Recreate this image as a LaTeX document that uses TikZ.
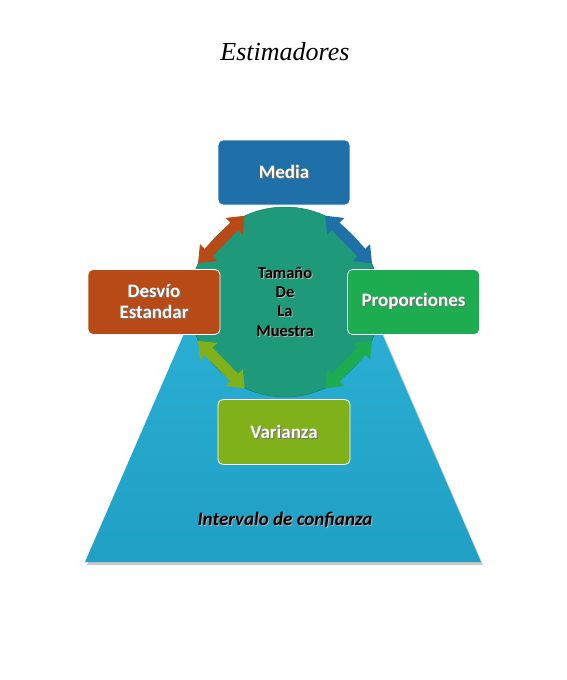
\documentclass[tikz,border=0pt]{standalone}
\usepackage{fontspec}
\setmainfont{Carlito}
\newfontfamily\titlefont{Liberation Serif}
\usetikzlibrary{arrows.meta}
\definecolor{mediablue}{RGB}{31,111,168}
\definecolor{desvioorange}{RGB}{184,74,24}
\definecolor{propgreen}{RGB}{30,172,80}
\definecolor{varolive}{RGB}{128,176,26}
\definecolor{tamteal}{RGB}{30,154,122}
\definecolor{pyrtop}{RGB}{46,178,216}
\definecolor{pyrbottom}{RGB}{31,160,196}
% text with a small drop shadow
\newcommand\shtxt[2][black!55]{\leavevmode\rlap{\hspace{1pt}\raisebox{-1pt}{\color{#1}#2}}#2}
\tikzset{
  estbox/.style={rectangle, rounded corners=5pt, draw=white, line width=0.8pt,
    minimum width=132pt, minimum height=65pt, text=white, align=center,
    font=\bfseries\fontsize{19}{21}\selectfont},
  cyclearrow/.style={line width=11pt,
    {Triangle[length=15pt,width=23pt]}-{Triangle[length=15pt,width=23pt]}}
}
\begin{document}
\begin{tikzpicture}[x=1pt,y=-1pt]
  \useasboundingbox (0,0) rectangle (567,680);
  % Title
  \node (titulo) at (285,52) {\titlefont\itshape\fontsize{26}{28}\selectfont Estimadores};
  % Pyramid
  \fill[black!35, opacity=0.6] (87,565) -- (218,262) -- (352,262) -- (483,565) -- cycle;
  \shade[top color=pyrtop, bottom color=pyrbottom] (85,562) -- (216,260) -- (350,260) -- (481,562) -- cycle;
  \node[font=\bfseries\itshape\fontsize{19}{21}\selectfont] (intervalo) at (285,520)
    {\shtxt[black!30]{Intervalo de confianza}};
  % Centre
  \node[circle, fill=tamteal, draw=tamteal!80!black, line width=0.5pt, minimum size=190pt,
    align=center, font=\bfseries\fontsize{16.5}{19.3}\selectfont] (tam) at (285,302)
    {\shtxt[black!30]{Tamaño}\\\shtxt[black!30]{De}\\\shtxt[black!30]{La}\\\shtxt[black!30]{Muestra}};
  % Arrows
  \foreach \a/\b/\c in {156/115/desvioorange, 65/24/mediablue, -24/-65/propgreen, -115/-156/varolive} {
    \draw[cyclearrow, \c] (tam.\a) -- (tam.\b);
  }
  % Boxes
  \node[estbox, fill=mediablue] (media) at (284,172.5) {\shtxt{Media}};
  \node[estbox, fill=desvioorange] (desvio) at (154,302) {\shtxt{Desvío}\\\shtxt{Estandar}};
  \node[estbox, fill=propgreen] (prop) at (413.5,302) {\shtxt{Proporciones}};
  \node[estbox, fill=varolive] (varianza) at (284,432) {\shtxt{Varianza}};
\end{tikzpicture}
\end{document}
